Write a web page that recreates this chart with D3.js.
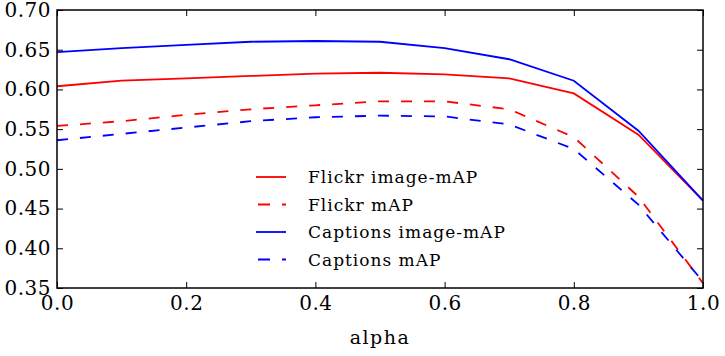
<!DOCTYPE html>
<html lang="en">
<head>
    <meta charset="UTF-8">
    <script src="https://d3js.org/d3.v7.min.js"></script>
    <title>alpha</title>
    <style>
        body { margin: 0; background: #fff; }
        text { font-family: "DejaVu Serif", serif; fill: #000; }
    </style>
</head>
<body>
<script>
    var w = 725,
        h = 356;
    var m = { left: 57, right: 22, top: 10, bottom: 68 };

    // data
    var alpha = [0.0, 0.1, 0.2, 0.3, 0.4, 0.5, 0.6, 0.7, 0.8, 0.9, 1.0];
    var flickrImage = [0.604, 0.611, 0.614, 0.617, 0.620, 0.621, 0.619, 0.614, 0.595, 0.543, 0.460];
    var flickrMap = [0.554, 0.560, 0.568, 0.575, 0.580, 0.585, 0.585, 0.575, 0.540, 0.465, 0.356];
    var captionsImage = [0.647, 0.652, 0.656, 0.660, 0.661, 0.660, 0.652, 0.638, 0.611, 0.548, 0.460];
    var captionsMap = [0.536, 0.544, 0.552, 0.560, 0.565, 0.567, 0.566, 0.556, 0.525, 0.455, 0.358];
    var xTicks = [0.0, 0.2, 0.4, 0.6, 0.8, 1.0];
    var yTicks = [0.35, 0.40, 0.45, 0.50, 0.55, 0.60, 0.65, 0.70];

    var series = [
        { name: "Flickr image-mAP", values: flickrImage, color: "#ff0000", dash: null },
        { name: "Flickr mAP", values: flickrMap, color: "#ff0000", dash: "11,12" },
        { name: "Captions image-mAP", values: captionsImage, color: "#0000ff", dash: null },
        { name: "Captions mAP", values: captionsMap, color: "#0000ff", dash: "11,12" }
    ];

    var svg = d3.select("body").append("svg")
        .attr("width", w)
        .attr("height", h);

    var x = d3.scaleLinear().domain([0, 1]).range([m.left, w - m.right]);
    var y = d3.scaleLinear().domain([0.35, 0.70]).range([h - m.bottom, m.top]);

    // lines
    var line = d3.line()
        .x(function(d, i) { return x(alpha[i]); })
        .y(function(d) { return y(d); });

    svg.append("g").selectAll("path").data(series).enter().append("path")
        .attr("d", function(s) { return line(s.values); })
        .attr("fill", "none")
        .attr("stroke", function(s) { return s.color; })
        .attr("stroke-width", 1.8)
        .attr("stroke-dasharray", function(s) { return s.dash; });

    // axes, ticks pointing inward on all four sides
    var tl = 6;
    svg.append("g").attr("transform", "translate(0," + (h - m.bottom) + ")")
        .call(d3.axisBottom(x).tickValues(xTicks).tickSizeInner(-tl).tickSizeOuter(0).tickPadding(8).tickFormat(d3.format(".1f")));
    svg.append("g").attr("transform", "translate(0," + m.top + ")")
        .call(d3.axisTop(x).tickValues(xTicks).tickSizeInner(-tl).tickSizeOuter(0).tickFormat(""));
    svg.append("g").attr("transform", "translate(" + m.left + ",0)")
        .call(d3.axisLeft(y).tickValues(yTicks).tickSizeInner(-tl).tickSizeOuter(0).tickPadding(6).tickFormat(d3.format(".2f")));
    svg.append("g").attr("transform", "translate(" + (w - m.right) + ",0)")
        .call(d3.axisRight(y).tickValues(yTicks).tickSizeInner(-tl).tickSizeOuter(0).tickFormat(""));

    svg.selectAll(".domain").remove();
    svg.selectAll(".tick line").attr("stroke", "#000").attr("stroke-width", 1);
    svg.selectAll(".tick text").style("font-size", "20px").style("letter-spacing", "0.5px");

    svg.append("rect")
        .attr("x", m.left).attr("y", m.top)
        .attr("width", w - m.left - m.right).attr("height", h - m.top - m.bottom)
        .attr("fill", "none").attr("stroke", "#000").attr("stroke-width", 1.5);

    svg.append("text")
        .attr("x", (m.left + w - m.right) / 2)
        .attr("y", 344)
        .attr("text-anchor", "middle")
        .style("font-size", "19px")
        .style("letter-spacing", "1.5px")
        .text("alpha");

    // legend
    var lg = svg.append("g").selectAll("g").data(series).enter().append("g")
        .attr("transform", function(d, i) { return "translate(256," + (177 + i * 27.5) + ")"; });
    lg.append("line")
        .attr("x1", function(s) { return s.dash ? 2 : 0; }).attr("x2", 30)
        .attr("stroke", function(s) { return s.color; })
        .attr("stroke-width", 1.8)
        .attr("stroke-dasharray", function(s) { return s.dash ? "12,12" : null; });
    lg.append("text")
        .attr("x", 52).attr("y", 6)
        .style("font-size", "17px")
        .style("letter-spacing", "1px")
        .text(function(s) { return s.name; });
</script>
</body>
</html>
